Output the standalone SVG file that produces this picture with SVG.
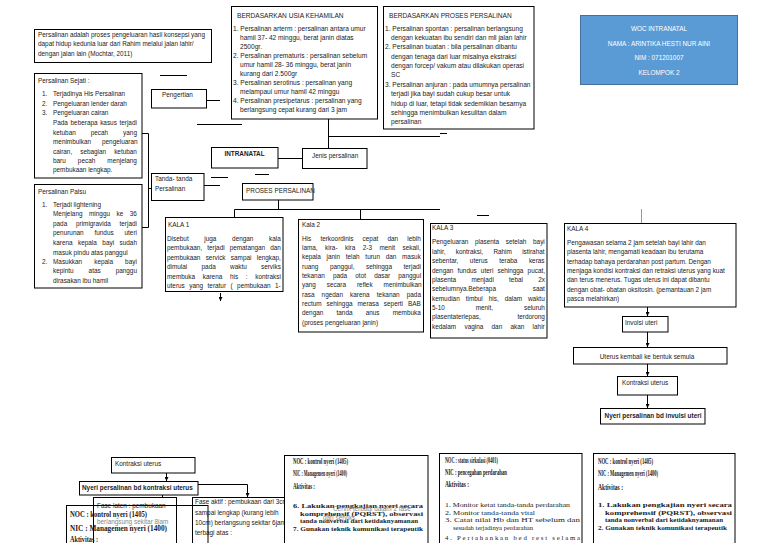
<svg xmlns="http://www.w3.org/2000/svg" width="768" height="543" viewBox="0 0 768 543">
<defs>
<marker id="ah" viewBox="0 0 6 6" refX="6" refY="3" markerWidth="4" markerHeight="4" orient="auto"><path d="M0,0 L6,3 L0,6 z" fill="#000"/></marker>
</defs>
<style>
.t{font-family:"Liberation Sans",Arial,sans-serif;font-size:6.4px;fill:#222}
.m{font-size:6.6px}
.b{font-weight:bold}
.w{fill:#fff}
.g{fill:#888}
.sf{font-family:"Liberation Serif","Times New Roman",serif;font-weight:bold;fill:#222}
.sn{font-family:"Liberation Serif","Times New Roman",serif;fill:#222}
.bx{fill:#fff;stroke:#000;stroke-width:1}
.nf{fill:none;stroke:#000;stroke-width:1}
.ln{stroke:#000;stroke-width:1;fill:none}
.ar{marker-end:url(#ah)}
</style>
<rect width="768" height="543" fill="#fff"/>

<g id="connectors" class="ln">
<path d="M160,75.5H187"/>
<path d="M207,100.5H220"/>
<path d="M197,124.5H242"/>
<path d="M142,133.5H148.5V227.5H142M148.5,188.5H152"/>
<path d="M328.5,119V148M328.5,136.5H440M440,133.5H447"/>
<path d="M278,158.5H302"/>
<path d="M211,177.5H228M204,185.5H220M255,174.5H269"/>
<path d="M278.5,200V209.5M234.5,209.5H440M234.5,209.5V217M360.5,209.5V219"/>
<path d="M477,215.5H489"/>
<path d="M641.5,209V223" stroke="#7f9fc8"/>
<path class="ar" d="M220.5,293V301"/>
<path class="ar" d="M647.5,307V316"/>
<path class="ar" d="M647.5,332V347"/>
<path class="ar" d="M647.5,364V376"/>
<path class="ar" d="M647.5,395V408"/>
<path class="ar" d="M166.5,473V481"/>
<path class="ar" d="M198,484.5H247.5V497"/>
<path class="ar" d="M162.5,495V501"/>
</g>

<g id="definisi">
<rect class="bx" x="34.5" y="29.5" width="177" height="33"/>
<text class="t" x="38" y="36.5">Persalinan adalah proses pengeluaran hasil konsepsi yang</text>
<text class="t" x="38" y="46">dapat hidup kedunia luar dari Rahim melalui jalan lahir/</text>
<text class="t" x="38" y="55.5">dengan jalan lain (Mochtar, 2011)</text>
</g>

<g id="sejati">
<rect class="bx" x="34.5" y="73.5" width="107.5" height="104.5"/>
<text class="t" x="38" y="83">Persalinan Sejati :</text>
<text class="t" x="42" y="96">1.</text><text class="t" x="53" y="96">Terjadinya His Persalinan</text>
<text class="t" x="42" y="106">2.</text><text class="t" x="53" y="106">Pengeluaran lender darah</text>
<text class="t" x="42" y="115">3.</text><text class="t" x="53" y="115">Pengeluaran cairan</text>
<text class="t" x="53" y="125" style="word-spacing:0.84px">Pada beberapa kasus terjadi</text>
<text class="t" x="53" y="135" style="word-spacing:13.2px">ketuban pecah yang</text>
<text class="t" x="53" y="144" style="word-spacing:9.2px">menimbulkan pengeluaran</text>
<text class="t" x="53" y="154" style="word-spacing:6.25px">cairan, sebagian ketuban</text>
<text class="t" x="53" y="163" style="word-spacing:10.3px">baru pecah menjelang</text>
<text class="t" x="53" y="172">pembukaan lengkap.</text>
</g>

<g id="pengertian">
<rect class="bx" x="151.5" y="89.5" width="55" height="18.5"/>
<text class="t" x="162" y="96.5">Pengertian</text>
</g>

<g id="tanda">
<rect class="bx" x="151.5" y="173.5" width="52.5" height="27"/>
<text class="t" x="155" y="181">Tanda- tanda</text>
<text class="t" x="155" y="190.5">Persalinan</text>
</g>

<g id="palsu">
<rect class="bx" x="34.5" y="184.5" width="107.5" height="103.5"/>
<text class="t" x="38" y="194">Persalinan Palsu</text>
<text class="t" x="42" y="207">1.</text><text class="t" x="53" y="207">Terjadi lightening</text>
<text class="t" x="53" y="216" style="word-spacing:4.76px">Menjelang minggu ke 36</text>
<text class="t" x="53" y="226" style="word-spacing:6.97px">pada primigravida terjadi</text>
<text class="t" x="53" y="235" style="word-spacing:9.1px">penurunan fundus uteri</text>
<text class="t" x="53" y="245" style="word-spacing:3.7px">karena kepala bayi sudah</text>
<text class="t" x="53" y="255">masuk pindu atas panggul</text>
<text class="t" x="42" y="264">2.</text><text class="t" x="53" y="264" style="word-spacing:10.3px">Masukkan kepala bayi</text>
<text class="t" x="53" y="273" style="word-spacing:13.2px">kepintu atas panggu</text>
<text class="t" x="53" y="283">dirasakan ibu hamil</text>
</g>

<g id="usia">
<rect class="bx" x="231.5" y="6.5" width="146" height="112.5"/>
<text class="t m" x="237" y="17.5">BERDASARKAN USIA KEHAMILAN</text>
<text class="t m" x="233" y="30.5">1. Persalinan arterm : persalinan antara umur</text>
<text class="t m" x="240" y="39.5">hamil 37- 42 minggu, berat janin diatas</text>
<text class="t m" x="240" y="48.5">2500gr.</text>
<text class="t m" x="233" y="57.5">2. Persalinan prematuris : persalinan sebelum</text>
<text class="t m" x="240" y="66.5">umur hamil 28- 36 minggu, berat janin</text>
<text class="t m" x="240" y="75.5">kurang dari 2.500gr</text>
<text class="t m" x="233" y="84.5">3. Persalinan serotinus : persalinan yang</text>
<text class="t m" x="240" y="93.5">melampaui umur hamil 42 minggu</text>
<text class="t m" x="233" y="102.5">4. Persalinan presipetarus : persalinan yang</text>
<text class="t m" x="240" y="111.5">berlangsung cepat kurang dari 3 jam</text>
</g>

<g id="proses-jenis">
<rect class="bx" x="383.5" y="6.5" width="150.5" height="122.5"/>
<text class="t m" x="389" y="17.5">BERDASARKAN PROSES PERSALINAN</text>
<text class="t m" x="385" y="30.5">1. Persalinan spontan : persalinan berlangsung</text>
<text class="t m" x="391" y="40">dengan kekuatan ibu sendiri dan mll jalan lahir</text>
<text class="t m" x="385" y="49">2. Persalinan buatan : bila persalinan dibantu</text>
<text class="t m" x="391" y="58.5">dengan tenaga dari luar misalnya ekstraksi</text>
<text class="t m" x="391" y="68">dengan forcep/ vakum atau dilakukan operasi</text>
<text class="t m" x="391" y="77">SC</text>
<text class="t m" x="385" y="87">3. Persalinan anjuran : pada umumnya persalinan</text>
<text class="t m" x="391" y="96">terjadi jika bayi sudah cukup besar untuk</text>
<text class="t m" x="391" y="105.5">hidup di luar, tetapi tidak sedemikian besarnya</text>
<text class="t m" x="391" y="115">sehingga menimbulkan kesulitan dalam</text>
<text class="t m" x="391" y="124">persalinan</text>
</g>

<g id="judul">
<rect x="580.5" y="15.5" width="157" height="69" fill="#5b9bd5" stroke="#41719c" stroke-width="1"/>
<text class="t w" x="659" y="31" text-anchor="middle">WOC INTRANATAL</text>
<text class="t w" x="659" y="45.5" text-anchor="middle">NAMA : ARINTIKA HESTI NUR AINI</text>
<text class="t w" x="659" y="60" text-anchor="middle">NIM : 071201007</text>
<text class="t w" x="659" y="75" text-anchor="middle">KELOMPOK 2</text>
</g>

<g id="intranatal">
<rect class="bx" x="211.5" y="147.5" width="66.5" height="20.5"/>
<text class="t b" x="244.5" y="156" text-anchor="middle">INTRANATAL</text>
</g>

<g id="jenis">
<rect class="bx" x="302.5" y="148.5" width="64.5" height="20"/>
<text class="t" x="312" y="157.5">Jenis persalinan</text>
</g>

<g id="proses">
<rect class="bx" x="242.5" y="183.5" width="70.5" height="16.5"/>
<text class="t" x="246" y="192.5">PROSES PERSALINAN</text>
</g>

<g id="kala1">
<rect class="bx" x="165.5" y="217.5" width="117.5" height="74"/>
<text class="t" x="168" y="227">KALA 1</text>
<text class="t" x="167" y="240.5" style="word-spacing:13.9px">Disebut juga dengan kala</text>
<text class="t" x="167" y="250" style="word-spacing:3.25px">pembukaan, terjadi pematangan dan</text>
<text class="t" x="167" y="259.5" style="word-spacing:3.5px">pembukaan servick sampai lengkap,</text>
<text class="t" x="167" y="269" style="word-spacing:12.5px">dimulai pada waktu serviks</text>
<text class="t" x="167" y="278.5" style="word-spacing:5.9px">membuka karena his : kontraksi</text>
<text class="t" x="167" y="288" style="word-spacing:2.7px">uterus yang teratur ( pembukaan 1-</text>
</g>

<g id="kala2">
<rect class="bx" x="298.5" y="219.5" width="125" height="112.5"/>
<text class="t" x="302" y="227">Kala 2</text>
<text class="t" x="302" y="240.5" style="word-spacing:7.4px">His terkoordinis cepat dan lebih</text>
<text class="t" x="302" y="250" style="word-spacing:5.7px">lama, kira- kira 2-3 menit sekali,</text>
<text class="t" x="302" y="259" style="word-spacing:3.95px">kepala janin telah turun dan masuk</text>
<text class="t" x="302" y="268.5" style="word-spacing:9.8px">ruang panggul, sehingga terjadi</text>
<text class="t" x="302" y="278" style="word-spacing:6.4px">tekanan pada otot dasar panggul</text>
<text class="t" x="302" y="287" style="word-spacing:9.2px">yang secara reflek menimbulkan</text>
<text class="t" x="302" y="296.5" style="word-spacing:5.4px">rasa ngedan karena tekanan pada</text>
<text class="t" x="302" y="305.5" style="word-spacing:3.25px">rectum sehingga merasa seperti BAB</text>
<text class="t" x="302" y="315" style="word-spacing:11.4px">dengan tanda anus membuka</text>
<text class="t" x="302" y="324.5">(proses pengeluaran janin)</text>
</g>

<g id="kala3">
<rect class="bx" x="430.5" y="223.5" width="116.5" height="114.5"/>
<text class="t" x="432" y="230">KALA 3</text>
<text class="t" x="432" y="244" style="word-spacing:4.9px">Pengeluaran plasenta setelah bayi</text>
<text class="t" x="432" y="253.5" style="word-spacing:8.5px">lahir, kontraksi, Rahim istirahat</text>
<text class="t" x="432" y="263" style="word-spacing:9.8px">sebentar, uterus teraba keras</text>
<text class="t" x="432" y="272.5" style="word-spacing:2.4px">dengan fundus uteri sehingga pucat,</text>
<text class="t" x="432" y="282" style="word-spacing:13.5px">plasenta menjadi tebal 2x</text>
<text class="t" x="432" y="291" style="word-spacing:35px">sebelumnya.Beberapa saat</text>
<text class="t" x="432" y="300.5" style="word-spacing:4.2px">kemudian timbul his, dalam waktu</text>
<text class="t" x="432" y="310" style="word-spacing:29.1px">5-10 menit, seluruh</text>
<text class="t" x="432" y="319" style="word-spacing:35px">plasentaterlepas, terdorong</text>
<text class="t" x="432" y="328.5" style="word-spacing:6.5px">kedalam vagina dan akan lahir</text>
</g>

<g id="kala4">
<rect class="bx" x="564.5" y="223.5" width="171.5" height="83.5"/>
<text class="t" x="567" y="231">KALA 4</text>
<text class="t" x="567" y="244.5">Pengawasan selama 2 jam setelah bayi lahir dan</text>
<text class="t" x="567" y="254">plasenta lahir, mengamati keadaan ibu terutama</text>
<text class="t" x="567" y="263.5">terhadap bahaya perdarahan post partum. Dengan</text>
<text class="t" x="567" y="273">menjaga kondisi kontraksi dan retraksi uterus yang kuat</text>
<text class="t" x="567" y="282">dan terus menerus. Tugas uterus ini dapat dibantu</text>
<text class="t" x="567" y="291.5">dengan obat- obatan oksitosin. (pemantauan 2 jam</text>
<text class="t" x="567" y="301">pasca melahirkan)</text>
</g>

<g id="involsi">
<rect class="bx" x="622.5" y="316.5" width="45.5" height="15.5"/>
<text class="t" x="625" y="325">Involsi uteri</text>
</g>

<g id="uterus-kembali">
<rect class="bx" x="573.5" y="347.5" width="153.5" height="16.5"/>
<text class="t" x="647" y="358.5" text-anchor="middle">Uterus kembali ke bentuk semula</text>
</g>

<g id="kontraksi-kanan">
<rect class="bx" x="617.5" y="376.5" width="60" height="18.5"/>
<text class="t" x="622" y="385">Kontraksi uterus</text>
</g>

<g id="nyeri-invulsi">
<rect class="bx" x="600.5" y="408.5" width="104.5" height="15.5"/>
<text class="t b" x="653" y="417.5" text-anchor="middle">Nyeri persalinan bd invulsi uteri</text>
</g>

<g id="kontraksi-kiri">
<rect class="bx" x="111.5" y="457.5" width="83.5" height="15.5"/>
<text class="t" x="115" y="465.5">Kontraksi uterus</text>
</g>

<g id="nyeri-kontraksi">
<rect class="bx" x="79.5" y="481.5" width="118.5" height="13.5"/>
<text class="t b" x="82" y="490">Nyeri persalinan bd kontraksi uterus</text>
</g>

<g id="fase-laten">
<rect class="bx" x="93.5" y="497.5" width="83" height="50"/>
<text class="t" x="97" y="507.5">Fase laten : pembukaan</text>
<text class="t g" x="97" y="524">berlangsung sekitar 8jam</text>
</g>

<g id="fase-aktif">
<rect class="bx" x="192.5" y="497.5" width="105" height="50"/>
<text class="t" x="195" y="504">Fase aktif : pembukaan dari 3cm</text>
<text class="t" x="195" y="515">sampai lengkap (kurang lebih</text>
<text class="t" x="195" y="524.5">10cm) berlangsung sekitar 6jam</text>
<text class="t" x="195" y="534.5">terbagi atas :</text>
</g>

<g id="noc-kiri">
<rect class="nf" x="66.5" y="505.5" width="141.5" height="45"/>
<text class="sf" x="70" y="517" font-size="9" textLength="77" lengthAdjust="spacingAndGlyphs">NOC : kontrol nyeri (1405)</text>
<text class="sf" x="70" y="531" font-size="9" textLength="97" lengthAdjust="spacingAndGlyphs">NIC : Managemen nyeri (1400)</text>
<text class="sf" x="70" y="542" font-size="8" textLength="28" lengthAdjust="spacingAndGlyphs">Aktivitas :</text>
</g>

<g id="noc-a">
<rect class="bx" x="284.5" y="455.5" width="143.5" height="95"/>
<text class="sf" x="293" y="464" font-size="7.5" textLength="55" lengthAdjust="spacingAndGlyphs">NOC : kontrol nyeri (1405)</text>
<text class="sf" x="293" y="476" font-size="7.5" textLength="54" lengthAdjust="spacingAndGlyphs">NIC : Managemen nyeri (1400)</text>
<text class="sf" x="293" y="489" font-size="7.5" textLength="22" lengthAdjust="spacingAndGlyphs">Aktivitas :</text>
<text class="sf" x="293" y="508" font-size="6.8" textLength="130" lengthAdjust="spacingAndGlyphs">6. Lakukan pengkajian nyeri secara</text>
<text class="sf" x="300" y="515.5" font-size="6.8" textLength="123" lengthAdjust="spacingAndGlyphs">komprehensif (PQRST), observasi</text>
<text class="sf" x="300" y="523" font-size="6.8" textLength="118" lengthAdjust="spacingAndGlyphs">tanda nonverbal dari ketidaknyamanan</text>
<text class="sf" x="293" y="531" font-size="6.8" textLength="130" lengthAdjust="spacingAndGlyphs">7. Gunakan teknik komunikasi terapeutik</text>
<text class="t g" x="333" y="511" font-size="5">Cervix terbagi dalam 2 fase</text>
<text class="t g" x="323" y="520" font-size="5">dari serviks.</text>
</g>

<g id="noc-b">
<rect class="bx" x="439.5" y="453.5" width="142.5" height="97"/>
<text class="sf" x="445" y="463" font-size="7.5" textLength="53" lengthAdjust="spacingAndGlyphs">NOC : status sirkulasi (0401)</text>
<text class="sf" x="445" y="475" font-size="7.5" textLength="62" lengthAdjust="spacingAndGlyphs">NIC : pencegahan perdarahan</text>
<text class="sf" x="445" y="487" font-size="7.5" textLength="24" lengthAdjust="spacingAndGlyphs">Aktivitas :</text>
<text class="sn" x="445" y="507" font-size="6.8" textLength="125" lengthAdjust="spacingAndGlyphs">1. Monitor ketat tanda-tanda perdarahan</text>
<text class="sn" x="445" y="514.5" font-size="6.8" textLength="90" lengthAdjust="spacingAndGlyphs">2. Monitor tanda-tanda vital</text>
<text class="sn" x="445" y="522" font-size="6.8" textLength="135" lengthAdjust="spacingAndGlyphs">3. Catat nilai Hb dan HT sebelum dan</text>
<text class="sn" x="453" y="529.5" font-size="6.8" textLength="80" lengthAdjust="spacingAndGlyphs">sesudah terjadinya perdarahan</text>
<text class="sn" x="445" y="539.5" font-size="6.8" textLength="135" lengthAdjust="spacing">4. Pertahankan bed rest selama</text>
</g>

<g id="noc-c">
<rect class="bx" x="593.5" y="453.5" width="141.5" height="97"/>
<text class="sf" x="598" y="464" font-size="7.5" textLength="55" lengthAdjust="spacingAndGlyphs">NOC : kontrol nyeri (1405)</text>
<text class="sf" x="598" y="476" font-size="7.5" textLength="60" lengthAdjust="spacingAndGlyphs">NIC : Managemen nyeri (1400)</text>
<text class="sf" x="598" y="490" font-size="7.5" textLength="25" lengthAdjust="spacingAndGlyphs">Aktivitas :</text>
<text class="sf" x="598" y="507" font-size="6.8" textLength="134" lengthAdjust="spacingAndGlyphs">1. Lakukan pengkajian nyeri secara</text>
<text class="sf" x="605" y="514.5" font-size="6.8" textLength="127" lengthAdjust="spacingAndGlyphs">komprehensif (PQRST), observasi</text>
<text class="sf" x="605" y="522" font-size="6.8" textLength="118" lengthAdjust="spacingAndGlyphs">tanda nonverbal dari ketidaknyamanan</text>
<text class="sf" x="598" y="530" font-size="6.8" textLength="129" lengthAdjust="spacingAndGlyphs">2. Gunakan teknik komunikasi terapeutik</text>
</g>
</svg>
